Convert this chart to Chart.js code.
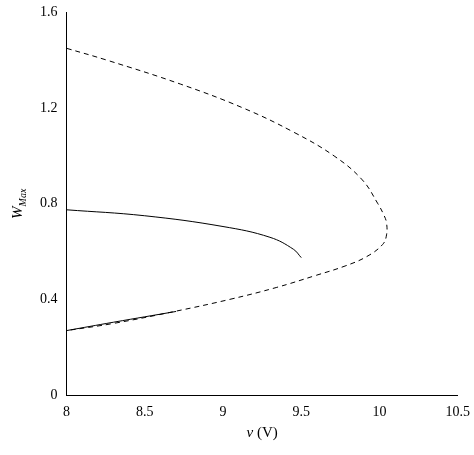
<!DOCTYPE html>
<html>
<head>
<meta charset="utf-8">
<script src="https://cdn.jsdelivr.net/npm/chart.js@4"></script>
<style>
  body { margin: 0; background: #fff; }
  #wrap { width: 474px; height: 455px; }
</style>
</head>
<body>
<div id="wrap"><canvas id="chart"></canvas></div>
<script>
// unstable branch (dashed)
const dashV = [8.0, 8.26, 8.73, 9.13, 9.45, 9.71, 9.89, 9.99, 10.03, 10.045, 10.045, 10.02, 9.92, 9.78, 9.59, 9.34, 9.04, 8.69, 8.3, 8.0];
const dashW = [1.45, 1.4, 1.3, 1.2, 1.1, 1.0, 0.9, 0.8, 0.75, 0.72, 0.67, 0.63, 0.58, 0.54, 0.5, 0.45, 0.4, 0.35, 0.3, 0.27];
// stable branches (solid)
const upperV = [8.0, 8.5, 9.0, 9.3, 9.45, 9.5];
const upperW = [0.775, 0.75, 0.705, 0.66, 0.61, 0.575];
const lowerV = [8.0, 8.3, 8.7];
const lowerW = [0.27, 0.305, 0.35];
const xTicks = [8, 8.5, 9, 9.5, 10, 10.5];
const yTicks = [0, 0.4, 0.8, 1.2, 1.6];

const pts = (xs, ys) => xs.map((x, i) => ({ x, y: ys[i] }));
const font = 'Liberation Serif';

// axis titles with italic / subscript parts
const titles = {
    id: 'titles',
    afterDraw(chart) {
        const ctx = chart.ctx;
        const a = chart.chartArea;
        ctx.save();
        ctx.fillStyle = '#000';
        ctx.textBaseline = 'alphabetic';
        // x title: "v (V)"
        const cx = (a.left + a.right) / 2;
        ctx.font = `italic 15px "${font}"`;
        const w1 = ctx.measureText('v').width;
        ctx.font = `15px "${font}"`;
        const w2 = ctx.measureText(' (V)').width;
        let x0 = cx - (w1 + w2) / 2;
        ctx.font = `italic 15px "${font}"`;
        ctx.fillText('v', x0, a.bottom + 42);
        ctx.font = `15px "${font}"`;
        ctx.fillText(' (V)', x0 + w1, a.bottom + 42);
        // y title: W_Max rotated
        ctx.translate(22, (a.top + a.bottom) / 2);
        ctx.rotate(-Math.PI / 2);
        ctx.font = `italic 15px "${font}"`;
        const wW = ctx.measureText('W').width;
        ctx.font = `italic 10px "${font}"`;
        const wM = ctx.measureText('Max').width;
        x0 = -(wW + wM) / 2;
        ctx.font = `italic 15px "${font}"`;
        ctx.fillText('W', x0, 0);
        ctx.font = `italic 10px "${font}"`;
        ctx.fillText('Max', x0 + wW, 4);
        ctx.restore();
    }
};

const line = { borderColor: '#000', borderWidth: 1, pointRadius: 0, showLine: true, fill: false, tension: 0.4 };

new Chart(document.getElementById('chart'), {
    type: 'scatter',
    data: {
        datasets: [
            { ...line, data: pts(dashV, dashW), borderDash: [5, 4] },
            { ...line, data: pts(upperV, upperW) },
            { ...line, data: pts(lowerV, lowerW) }
        ]
    },
    options: {
        responsive: true,
        maintainAspectRatio: false,
        animation: false,
        layout: { padding: { left: 36, right: 14, top: 9, bottom: 30 } },
        plugins: { legend: { display: false }, tooltip: { enabled: false } },
        scales: {
            x: {
                type: 'linear', min: 8, max: 10.5,
                afterBuildTicks: s => { s.ticks = xTicks.map(v => ({ value: v })); },
                grid: { display: false, tickLength: 5 },
                border: { color: '#000' },
                ticks: { color: '#000', font: { family: font, size: 14 }, padding: 4,
                         callback: v => String(v) }
            },
            y: {
                type: 'linear', min: 0, max: 1.6,
                afterBuildTicks: s => { s.ticks = yTicks.map(v => ({ value: v })); },
                grid: { display: false, tickLength: 5 },
                border: { color: '#000' },
                ticks: { color: '#000', font: { family: font, size: 14 }, padding: 4,
                         callback: v => v === 0 ? '0' : v.toFixed(1) }
            }
        }
    },
    plugins: [titles]
});
</script>
</body>
</html>
